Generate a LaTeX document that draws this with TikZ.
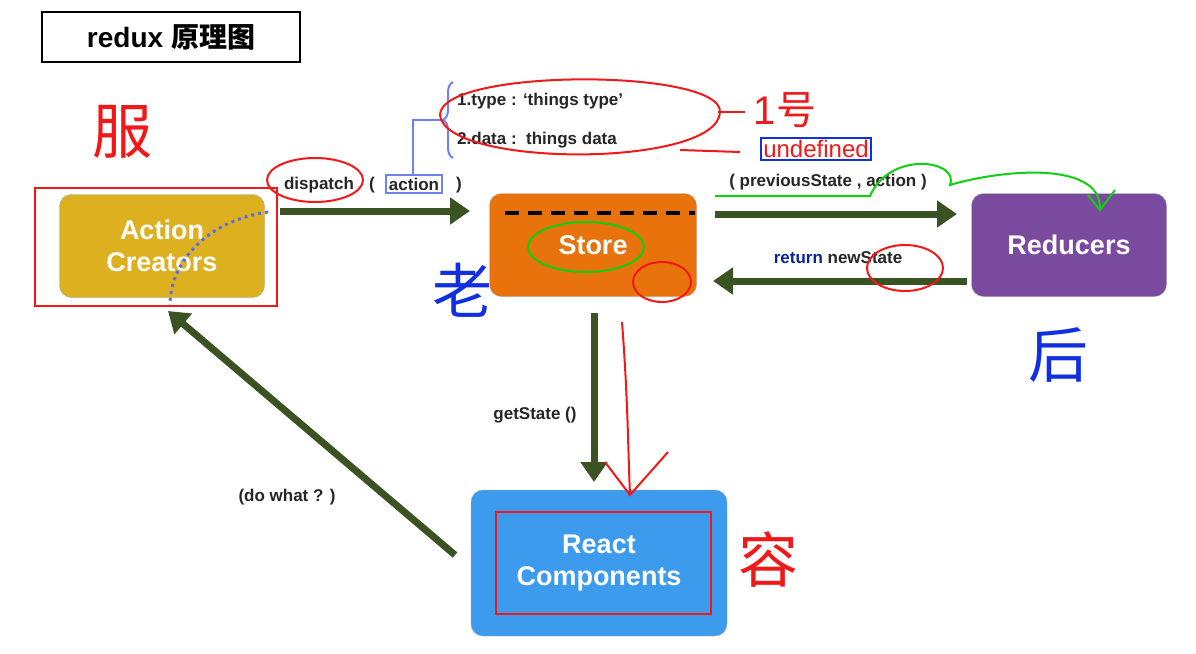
\documentclass[tikz,border=0pt]{standalone}
\usepackage{fontspec}
\setmainfont{Liberation Sans}
\newfontfamily\cjk{Noto Sans CJK SC}
\usetikzlibrary{arrows.meta,decorations.pathreplacing,calc}
\definecolor{arr}{HTML}{3B5323}
\definecolor{gold}{HTML}{DDB01F}
\definecolor{org}{HTML}{E8720C}
\definecolor{pur}{HTML}{7A4A9E}
\definecolor{blu}{HTML}{3D9BEE}
\definecolor{hb}{HTML}{1030E0}
\definecolor{hr}{HTML}{F01818}
\definecolor{hg}{HTML}{10D010}
\begin{document}
\begin{tikzpicture}[x=1pt,y=-1pt,
 box/.style={draw=gray!70,rounded corners=12pt,text=white,font=\bfseries\fontsize{27}{32}\selectfont,align=center,inner sep=0pt},
 flow/.style={draw=arr,line width=7pt,-{Triangle[length=20pt,width=26pt]}},
 lab/.style={font=\bfseries\fontsize{17}{20}\selectfont,text=black!85,inner sep=1pt},
 red/.style={draw=hr,line width=2pt},
 hand/.style={font=\cjk\fontsize{60}{60}\selectfont}]
\fill[white] (0,0) rectangle (1196,653);
\useasboundingbox (0,0) rectangle (1196,653);
\node[draw,line width=2.5pt,minimum width=258pt,minimum height=50pt,font=\bfseries\fontsize{28}{30}\selectfont] (title) at (171,37) {redux {\cjk 原理图}};
\node[box,fill=gold,minimum width=205pt,minimum height=103pt] (ac) at (162,246) {Action\\Creators};
\node[box,fill=org,minimum width=207pt,minimum height=103pt] (st) at (593,245) {Store};
\node[box,fill=pur,minimum width=195pt,minimum height=103pt] (re) at (1069,245) {Reducers};
\node[box,fill=blu,minimum width=256pt,minimum height=146pt] (rc) at (599,563) {React\\Components};
\draw[black,line width=4pt,dash pattern=on 14pt off 9pt] (505,213) -- (695,213);
\coordinate (a1) at (280,211); \coordinate (a2) at (470,211);
\draw[flow] (a1) -- (a2);
\coordinate (b1) at (715,214); \coordinate (b2) at (957,214);
\draw[flow] (b1) -- (b2);
\coordinate (c1) at (967,281); \coordinate (c2) at (713,281);
\draw[flow] (c1) -- (c2);
\coordinate (d1) at (594,313); \coordinate (d2) at (594,482);
\draw[flow] (d1) -- (d2);
\coordinate (e1) at (455,555); \coordinate (e2) at (168,311);
\draw[flow] (e1) -- (e2);
\node[lab] (disp) at (319,185) {dispatch};
\node[lab] (lp) at (372,185) {(};
\node[lab,draw=hb!60,line width=1.5pt,inner sep=3pt] (act) at (414,184) {action};
\node[lab] (rp) at (459,185) {)};
\node[lab] (prev) at (828,182) {( previousState , action )};
\node[lab] (ret) at (838,258) {\textcolor{hb!70!black}{return} newState};
\node[lab] (gs) at (535,415) {getState ()};
\node[lab] (dw) at (287,497) {(do what ? )};
\node[lab,anchor=west] (t1) at (456,101) {1.type : ‘things type’};
\node[lab,anchor=west] (t2) at (456,140) {2.data :\ \ things data};
\draw[hb!60,line width=2pt,decorate,decoration={brace,amplitude=10pt}] (453,158) -- (453,82);
\draw[hb!60,line width=2pt] (443,120) -- (413,120) -- (act.north -| 413,0);
% annotations
\draw[red] (440,115) .. controls (440,68) and (722,68) .. (720,112) .. controls (718,168) and (445,168) .. (440,115);
\draw[red] (718,112) -- (745,112);
\draw[red] (680,150) -- (740,152);
\node[font=\fontsize{40}{40}\selectfont,text=hr] (one) at (785,110) {1\cjk 号};
\node[draw=hb,line width=2pt,text=hr,font=\fontsize{24}{26}\selectfont,inner sep=2pt] (und) at (816,149) {undefined};
\draw[red] (315,180) ellipse (48pt and 22pt);
\draw[red] (662,282) ellipse (29pt and 20pt);
\draw[red] (905,268) ellipse (38pt and 23pt);
\draw[draw=hg,line width=2pt] (586,247) ellipse (58pt and 25pt);
\draw[draw=hg,line width=2pt] (715,196) -- (870,196) .. controls (890,150) and (960,160) .. (950,185) .. controls (1000,170) and (1100,160) .. (1100,208);
\draw[draw=hg,line width=2pt] (1088,195) -- (1100,210) -- (1115,190);
\draw[red] (35,188) rectangle (277,306);
\draw[red] (496,512) rectangle (711,614);
\draw[red] (622,322) .. controls (628,400) and (628,450) .. (630,495);
\draw[red] (605,462) -- (630,495) -- (668,452);
\draw[hb!70,line width=3pt,dash pattern=on 3pt off 4pt] (268,212) .. controls (210,220) and (170,260) .. (170,305);
\node[hand,text=hr] (fu) at (122,132) {服};
\node[hand,text=hb] (lao) at (462,290) {老};
\node[hand,text=hb] (hou) at (1058,355) {后};
\node[hand,text=hr] (rong) at (768,560) {容};
\end{tikzpicture}
\end{document}
